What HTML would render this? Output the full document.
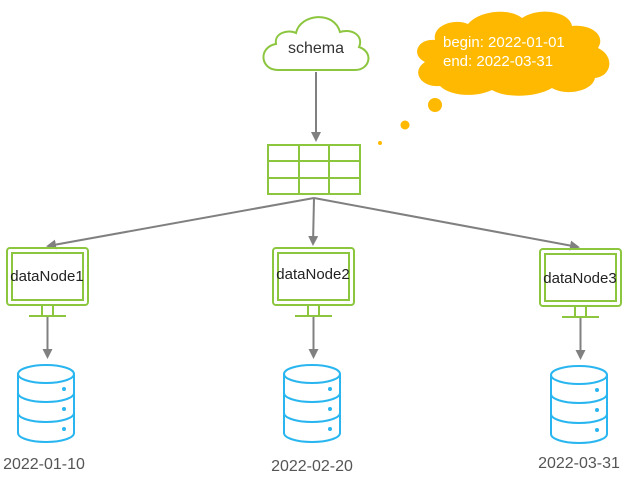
<!DOCTYPE html>
<html><head><meta charset="utf-8"><style>
html,body{margin:0;padding:0;background:#fff;}
svg{display:block;font-family:"Liberation Sans","DejaVu Sans",sans-serif;}
</style></head><body>
<svg width="626" height="477" viewBox="0 0 626 477" xmlns="http://www.w3.org/2000/svg">
<defs>
<marker id="ah" markerWidth="10" markerHeight="10" refX="8" refY="5" orient="auto" markerUnits="userSpaceOnUse">
<path d="M0,0 L10,5 L0,10 Z" fill="#808080"/>
</marker>
<g id="node">
<rect x="1" y="1" width="81" height="57" rx="3" fill="none" stroke="#8cc63f" stroke-width="2"/>
<rect x="6" y="6" width="71" height="47" fill="none" stroke="#8cc63f" stroke-width="2"/>
<line x1="36" y1="58" x2="36" y2="69" stroke="#8cc63f" stroke-width="2"/>
<line x1="47" y1="58" x2="47" y2="69" stroke="#8cc63f" stroke-width="2"/>
<line x1="23" y1="69" x2="60" y2="69" stroke="#8cc63f" stroke-width="2"/>
<line x1="41.5" y1="70" x2="41.5" y2="110" stroke="#808080" stroke-width="2" marker-end="url(#ah)"/>
<g fill="none" stroke="#29b6f0" stroke-width="2">
<ellipse cx="40" cy="127" rx="28" ry="9"/>
<path d="M12,127 V186 A28,9 0 0 0 68,186 V127"/>
<path d="M12,146 A28,9 0 0 0 68,146"/>
<path d="M12,166 A28,9 0 0 0 68,166"/>
</g>
<circle cx="58" cy="142" r="2" fill="#29b6f0"/>
<circle cx="58" cy="162" r="2" fill="#29b6f0"/>
<circle cx="58" cy="182" r="2" fill="#29b6f0"/>
</g>
</defs>

<path d="M278,70 C260,70 258,47 276,44 C274,33 288,29 296,33 C300,14 334,10 340,32 C352,28 364,36 359,47 C374,52 370,70 355,70 Z" fill="#fff" stroke="#8cc63f" stroke-width="2"/>
<text x="316" y="53" font-size="16" text-anchor="middle" fill="#333">schema</text>
<line x1="316" y1="72" x2="316" y2="140" stroke="#808080" stroke-width="2" marker-end="url(#ah)"/>

<g fill="none" stroke="#8cc63f" stroke-width="2">
<rect x="268" y="145" width="92" height="49"/>
<line x1="268" y1="161" x2="360" y2="161"/>
<line x1="268" y1="178" x2="360" y2="178"/>
<line x1="299" y1="145" x2="299" y2="194"/>
<line x1="329" y1="145" x2="329" y2="194"/>
</g>

<g stroke="#808080" stroke-width="2">
<line x1="314" y1="198" x2="48" y2="246" marker-end="url(#ah)"/>
<line x1="314" y1="198" x2="313" y2="244" marker-end="url(#ah)"/>
<line x1="314" y1="198" x2="578" y2="247" marker-end="url(#ah)"/>
</g>

<path d="M440,86 C422,88 410,72 425,62 C410,55 418,38 435,40 C432,25 455,18 468,24 C480,10 510,8 522,18 C540,6 570,12 572,26 C592,24 606,36 598,48 C615,56 612,76 595,78 C592,92 565,96 552,88 C535,98 505,98 492,90 C475,98 450,96 440,86 Z" fill="#ffb900"/>
<text x="443" y="47" font-size="15" fill="#fff">begin: 2022-01-01</text>
<text x="443" y="66" font-size="15" fill="#fff">end: 2022-03-31</text>
<circle cx="435" cy="105" r="7" fill="#ffb900"/>
<circle cx="405" cy="125" r="4.5" fill="#ffb900"/>
<circle cx="380" cy="143" r="2" fill="#ffb900"/>

<use href="#node" x="6" y="247"/>
<text x="47" y="281" font-size="15" text-anchor="middle" fill="#222">dataNode1</text>
<text x="44" y="469" font-size="16" text-anchor="middle" fill="#555">2022-01-10</text>

<use href="#node" x="272" y="247"/>
<text x="313" y="279" font-size="15" text-anchor="middle" fill="#222">dataNode2</text>
<text x="312" y="471" font-size="16" text-anchor="middle" fill="#555">2022-02-20</text>

<use href="#node" x="539" y="248"/>
<text x="580" y="283" font-size="15" text-anchor="middle" fill="#222">dataNode3</text>
<text x="579" y="468" font-size="16" text-anchor="middle" fill="#555">2022-03-31</text>
</svg>
</body></html>
